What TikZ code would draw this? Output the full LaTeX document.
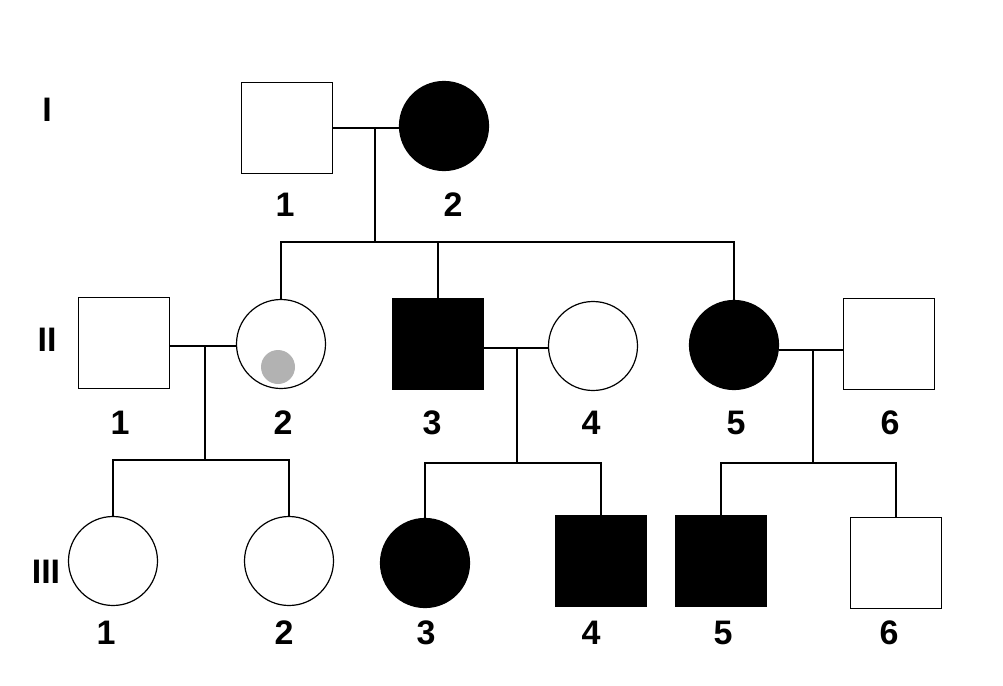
\documentclass[tikz,border=0pt]{standalone}
\usepackage{fontspec}
\setmainfont{Liberation Sans}
\begin{document}
\begin{tikzpicture}[x=1pt,y=-1pt,line width=1.2pt,
  male/.style={draw,rectangle,minimum size=91pt,inner sep=0pt},
  female/.style={draw,circle,minimum size=89pt,inner sep=0pt},
  aff/.style={fill=black},
  lab/.style={font=\fontsize{34}{34}\selectfont\bfseries,inner sep=0pt}]
\useasboundingbox (0,0) rectangle (1003,685);
% generation I
\node[male] (a1) at (287,128) {};
\node[female,aff] (a2) at (444,126) {};
\coordinate (m1) at (375,128);
\draw (a1.east) -- (m1) -- (a2.west|-m1);
\coordinate (s1) at (375,242);
\draw (m1) -- (s1);
% generation II
\node[male] (b1) at (124,343) {};
\node[female] (b2) at (281,344) {};
\node[male,aff] (b3) at (438,344) {};
\node[female] (b4) at (593,346) {};
\node[female,aff] (b5) at (734,345) {};
\node[male] (b6) at (889,344) {};
\node[circle,fill=gray!60,minimum size=34pt,inner sep=0pt] (dot) at (278,367) {};
\draw (b2.north) -- (b2.north|-s1) -- (b5.north|-s1) -- (b5.north);
\draw (b3.north) -- (b3.north|-s1);
\coordinate (m2) at (205,346);
\coordinate (m3) at (517,348);
\coordinate (m4) at (813,350);
\draw (b1.east|-m2) -- (b2.west|-m2);
\draw (b3.east|-m3) -- (b4.west|-m3);
\draw (b5.east|-m4) -- (b6.west|-m4);
\coordinate (s2) at (205,460);
\coordinate (s3) at (517,463);
\coordinate (s4) at (813,463);
\draw (m2) -- (s2); \draw (m3) -- (s3); \draw (m4) -- (s4);
% generation III
\node[female] (c1) at (113,561) {};
\node[female] (c2) at (289,561) {};
\node[female,aff] (c3) at (425,563) {};
\node[male,aff] (c4) at (601,561) {};
\node[male,aff] (c5) at (721,561) {};
\node[male] (c6) at (896,563) {};
\draw (c1.north) -- (c1.north|-s2) -- (c2.north|-s2) -- (c2.north);
\draw (c3.north) -- (c3.north|-s3) -- (c4.north|-s3) -- (c4.north);
\draw (c5.north) -- (c5.north|-s4) -- (c6.north|-s4) -- (c6.north);
% labels
\node[lab] (g1) at (47,110) {I};
\node[lab] (g2) at (47,340) {II};
\node[lab] (g3) at (46,572) {III};
\node[lab] (la1) at (285,205) {1};
\node[lab] (la2) at (453,205) {2};
\foreach \x/\t [count=\i] in {120/1,283/2,432/3,591/4,736/5,890/6}
  \node[lab] (lb\i) at (\x,423) {\t};
\foreach \x/\t [count=\i] in {106/1,284/2,426/3,591/4,723/5,889/6}
  \node[lab] (lc\i) at (\x,633) {\t};
\end{tikzpicture}
\end{document}
